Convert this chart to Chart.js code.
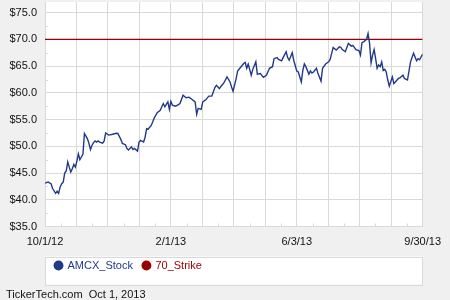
<!DOCTYPE html>
<html>
<head>
<meta charset="utf-8">
<script src="https://cdn.jsdelivr.net/npm/chart.js@4/dist/chart.umd.min.js"></script>
<style>
  html, body { margin: 0; padding: 0; background: #f0f0f0; }
</style>
</head>
<body>
<canvas id="stockChart" width="450" height="300"></canvas>
<script>
// trading day index since 10/1/12 (0 .. 249) and AMCX close
const tradingDay = [
  0, 2, 4, 5, 7, 8, 9, 10, 11, 12, 13, 14, 15, 16, 17, 18, 19, 20, 21, 22,
  23, 24, 25, 26, 27, 28, 29, 30, 31, 32, 33, 34, 35, 36, 38, 39, 40, 41, 42, 44,
  45, 47, 48, 50, 51, 53, 54, 55, 57, 58, 59, 61, 62, 63, 65, 66, 67, 68, 70, 71,
  72, 74, 76, 77, 78, 79, 81, 82, 83, 84, 86, 88, 89, 91, 93, 95, 97, 99, 100, 101,
  103, 104, 106, 108, 110, 112, 113, 115, 116, 118, 120, 122, 123, 124, 126, 127, 129, 131, 132, 133,
  134, 136, 137, 139, 140, 142, 144, 146, 148, 150, 151, 153, 154, 156, 157, 159, 160, 161, 163, 164,
  166, 167, 169, 170, 171, 172, 174, 175, 176, 177, 179, 180, 182, 183, 185, 187, 188, 190, 192, 194,
  195, 196, 198, 200, 202, 203, 205, 207, 208, 209, 210, 212, 213, 214, 215, 216, 217, 218, 219, 220,
  221, 222, 223, 224, 225, 226, 227, 229, 230, 231, 233, 234, 236, 237, 239, 241, 242, 243, 245, 246,
  247, 248, 249
];
const amcxClose = [
  43.1, 43.3, 43.0, 42.1, 41.2, 41.6, 41.2, 42.4, 43.0, 43.3, 45.0, 45.4, 47.1, 46.1, 45.2, 45.8, 46.6, 46.1, 47.2, 48.6,
  47.5, 48.0, 48.5, 52.4, 51.9, 51.4, 50.5, 49.4, 50.2, 50.7, 51.0, 50.8, 51.0, 50.8, 50.6, 51.0, 52.5, 52.3, 52.1, 52.2,
  52.3, 52.45, 52.4, 51.3, 50.55, 50.3, 49.6, 49.3, 49.9, 49.4, 49.6, 49.1, 50.8, 51.1, 50.8, 51.7, 53.3, 53.2, 53.9, 54.55,
  55.3, 56.3, 56.75, 57.4, 58.0, 57.4, 58.3, 56.9, 58.4, 57.7, 57.5, 57.8, 58.0, 59.55, 59.1, 59.2, 58.75, 58.3, 56.0, 57.1,
  56.9, 58.3, 58.7, 59.4, 59.4, 61.0, 61.4, 60.8, 61.2, 61.9, 63.0, 62.05, 61.1, 60.3, 62.6, 64.1, 64.8, 65.5, 65.7, 64.6,
  65.4, 63.3, 64.4, 65.8, 63.5, 63.6, 62.9, 63.3, 64.6, 64.9, 66.4, 66.6, 66.25, 66.0, 66.6, 67.7, 66.6, 66.1, 67.5, 66.1,
  64.1, 63.9, 62.05, 64.2, 65.4, 64.9, 63.5, 64.1, 63.7, 63.9, 64.6, 63.6, 62.2, 64.6, 65.4, 65.8, 66.25, 68.5, 68.0, 68.6,
  68.5, 68.1, 67.7, 69.25, 68.75, 68.9, 68.1, 67.9, 67.05, 69.4, 69.55, 70.0, 71.1, 69.25, 65.6, 67.05, 68.1, 66.4, 64.6, 65.2,
  64.9, 65.8, 64.2, 64.4, 63.9, 62.4, 61.25, 63.0, 61.75, 62.05, 62.7, 62.8, 63.3, 62.7, 62.4, 65.8, 66.6, 67.4, 66.0, 66.4,
  66.2, 66.75, 67.25
];
const strikePrice = 70;
const firstDay = 0;
const lastDay = 249;

const xTickLabels = ['10/1/12', '2/1/13', '6/3/13', '9/30/13'];
const xDivisions = 24;   // half-month steps, every 2nd one has a grid line
const yTicks = [35, 40, 45, 50, 55, 60, 65, 70, 75];
const yMin = 35;
const yMax = 77;

const FONT = "'Liberation Sans', Arial, sans-serif";
const GRID = '#d9d9d9';
const BLUE = '#22398a';
const RED = '#990000';

// white plot area + white legend box
const backgrounds = {
  id: 'backgrounds',
  beforeDraw(chart) {
    const { ctx, chartArea: a, legend: l } = chart;
    ctx.save();
    ctx.fillStyle = '#fff';
    ctx.fillRect(a.left, a.top, a.right - a.left, a.bottom - a.top);
    const cy = l.top + l.options.labels.padding + 5.5;
    ctx.fillRect(a.left, cy - 9, a.right - a.left, 28);
    ctx.strokeStyle = GRID;
    ctx.lineWidth = 1;
    ctx.strokeRect(Math.round(a.left) + 0.5, Math.round(cy - 9) + 0.5, Math.round(a.right - a.left) - 1, 28);
    ctx.restore();
  }
};

// small inner ticks on the bottom and left edges
const minorTicks = {
  id: 'minorTicks',
  beforeDatasetsDraw(chart) {
    const { ctx, chartArea: a, scales: { x, y } } = chart;
    ctx.save();
    ctx.strokeStyle = GRID;
    ctx.lineWidth = 1;
    ctx.beginPath();
    x.ticks.forEach((t, i) => {
      if (i % 2) {
        const px = Math.round(x.getPixelForValue(t.value)) + 0.5;
        ctx.moveTo(px, a.bottom);
        ctx.lineTo(px, a.bottom - 3);
      }
    });
    for (let v = yMin + 2.5; v < yMax; v += 5) {
      const py = Math.round(y.getPixelForValue(v)) + 0.5;
      ctx.moveTo(a.left, py);
      ctx.lineTo(a.left + 3, py);
    }
    ctx.stroke();
    ctx.restore();
  }
};

new Chart(document.getElementById('stockChart'), {
  type: 'line',
  data: {
    datasets: [{
      label: 'AMCX_Stock',
      data: tradingDay.map((d, i) => ({ x: d, y: amcxClose[i] })),
      borderColor: BLUE,
      backgroundColor: BLUE,
      borderWidth: 1.4,
      pointRadius: 0,
      tension: 0
    }, {
      label: '70_Strike',
      data: [{ x: firstDay, y: strikePrice }, { x: lastDay, y: strikePrice }],
      borderColor: RED,
      backgroundColor: RED,
      borderWidth: 1.4,
      pointRadius: 0
    }]
  },
  options: {
    responsive: false,
    animation: false,
    layout: { padding: { left: 6, right: 26, top: 2, bottom: 0 } },
    scales: {
      x: {
        type: 'linear',
        min: firstDay,
        max: lastDay,
        afterBuildTicks(scale) {
          scale.ticks = Array.from({ length: xDivisions + 1 }, (_, i) => ({ value: firstDay + i * (lastDay - firstDay) / xDivisions }));
        },
        afterFit(scale) {
          scale.height = 23.5;
        },
        grid: {
          color: c => (c.index % 2 === 0 ? GRID : 'rgba(0,0,0,0)'),
          drawTicks: false
        },
        border: { color: GRID },
        ticks: {
          autoSkip: false,
          maxRotation: 0,
          padding: 9,
          color: '#111',
          font: { family: FONT, size: 11 },
          callback: (v, i) => (i % 8 === 0 ? xTickLabels[i / 8] : '')
        }
      },
      y: {
        min: yMin,
        max: yMax,
        afterBuildTicks(scale) {
          scale.ticks = yTicks.map(v => ({ value: v }));
        },
        afterFit(scale) {
          scale.width = 39;
          scale.paddingTop = 0;
          scale.paddingBottom = 0;
        },
        grid: { color: GRID, drawTicks: false },
        border: { color: GRID },
        ticks: {
          padding: 8,
          color: '#111',
          font: { family: FONT, size: 11 },
          callback: v => '$' + v.toFixed(1)
        }
      }
    },
    plugins: {
      legend: {
        position: 'bottom',
        align: 'start',
        fullSize: false,
        labels: {
          usePointStyle: true,
          boxWidth: 7,
          boxHeight: 7,
          padding: 10,
          font: { family: FONT, size: 11 },
          generateLabels: chart => chart.data.datasets.map((ds, i) => ({
            text: ds.label,
            fillStyle: ds.borderColor,
            strokeStyle: ds.borderColor,
            fontColor: ds.borderColor,
            lineWidth: 0,
            pointStyle: 'circle',
            hidden: false,
            datasetIndex: i
          }))
        }
      },
      subtitle: {
        display: true,
        position: 'bottom',
        align: 'start',
        text: 'TickerTech.com  Oct 1, 2013',
        color: '#111',
        font: { family: FONT, size: 11, lineHeight: 1 },
        padding: { top: 8, bottom: 0 }
      },
      tooltip: { enabled: false }
    }
  },
  plugins: [backgrounds, minorTicks]
});
</script>
</body>
</html>
